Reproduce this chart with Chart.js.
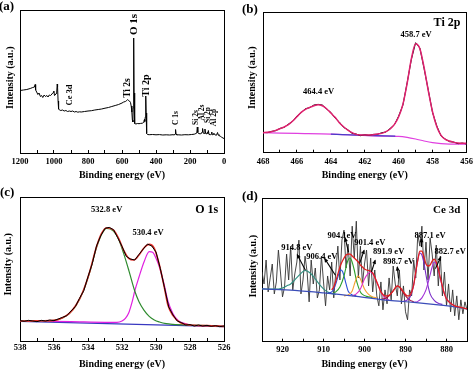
<!DOCTYPE html>
<html><head><meta charset="utf-8">
<script src="https://cdn.jsdelivr.net/npm/chart.js@4.4.0/dist/chart.umd.min.js"></script>
<style>
html,body{margin:0;padding:0;background:#fff;}
#wrap{position:relative;width:474px;height:370px;overflow:hidden;background:#fff;}
canvas{position:absolute;}
</style></head><body>
<div id="wrap">
<canvas id="ca" width="237" height="185" style="left:0;top:0;width:237px;height:185px"></canvas>
<canvas id="cb" width="237" height="185" style="left:237px;top:0;width:237px;height:185px"></canvas>
<canvas id="cc" width="237" height="185" style="left:0;top:185px;width:237px;height:185px"></canvas>
<canvas id="cd" width="237" height="185" style="left:237px;top:185px;width:237px;height:185px"></canvas>
</div>
<script>
// ---------------- Panel (a): survey spectrum ----------------
const surveyEnergy = [
1200,1180,1160,1140,1125,1115,1111,1108,1102,1095,
1088,1080,1073,1066,1058,1050,1042,1035,1028,1020,
1012,1005,1001,997,993,988,984,981,979,976,
973,968,960,950,940,930,920,910,900,890,
880,870,860,850,840,820,800,780,760,740,
720,700,680,660,640,620,600,590,580,572,
567,562,556,550,546,542,539,536,534,532,
530.5,529,527,524,518,510,500,490,480,474,
471,468,466,463,461,459.5,458,456,454,450,
440,420,400,380,360,340,320,300,292,288,
285,282,278,270,250,230,210,190,175,165,
160,157,154,150,140,133,129,126,122,116,
112,108,103,98,95,92,88,80,75,72,
69,64,60,52,44,38,35,30,22,14,
6,0];
const surveyCounts = [
62.5,63,63.5,64.5,65.5,66,68.5,63,61,58.5,
60,56.5,57.5,55.5,58,56.5,57.5,56,58,57.5,
59,60.5,62,57.5,58,59.5,61,69,66,52,
44,43,42.5,43,42,42.5,41.5,42,41.5,42,
41,41.5,40.8,41.2,41,41.5,42,42.3,43,43.5,
44,44.8,45.5,46.5,47.5,48.5,50,51,51.5,52.5,
53.5,52.5,52,50.5,47,41,33,31,45,100,
115,60,31,29.5,29,29.5,29.3,29.6,29.8,30.5,
32,33.5,31.5,36,48,57,40,24,19.5,18.5,
18.3,18.5,18.2,18.4,18,18.2,18,18.3,18,19,
23.5,19,18,18.2,18,18.3,18.2,18.5,18.8,19.5,
20,26,20.5,19.5,19.2,19.5,21,24.5,19.8,19.5,
24,19.5,19,20.5,19.5,22.5,18.5,18.3,18.8,21,
18.2,18.5,19.8,18,17.8,20.5,18.5,17.5,16.8,15.8,
15,14.5];
const surveyTicks = [0,100,200,300,400,500,600,700,800,900,1000,1100,1200];
const surveyTickLabels = ['0','','200','','400','','600','','800','','1000','','1200'];

// ---------------- Panel (b): Ti 2p ----------------
const ti2pEnergy = [468,467.75,467.5,467.25,467,466.75,466.5,466.25,466,465.75,465.5,465.25,465,464.75,464.5,464.25,464,463.75,463.5,463.25,463,462.75,462.5,462.25,462,461.75,461.5,461.25,461,460.75,460.5,460.25,460,459.75,459.5,459.25,459,458.75,458.5,458.25,458,457.75,457.5,457.25,457,456.75,456.5,456.25,456];
const ti2pCounts = [61,60,64,66,73,76,86,94,110,120,132,135,143,145,143,131,121,104,92,76,69,58,56,51,54,52,55,55,60,62,73,84,110,143,210,280,330,314,252,187,120,80,50,41,33,32,27,29,26];
const ti2pFit = [60,61,63,67,72,77,84,95,108,121,130,136,141,144,141,132,119,106,90,78,68,60,55,53,53,53,54,56,58,63,71,85,108,145,208,282,327,312,255,185,122,78,52,40,35,31,29,28,28];
const ti2pBgEnergy = [468,466,464,462.2,461,460,459.5,459,458.5,458,457.5,457,456];
const ti2pBg = [60,58,56,52,50,49,46,41,35,30,27,26,26];
const ti2pBg2Energy = [464,462,460.2];
const ti2pBg2 = [55.5,52,49.5];
const ti2pTicks = [456,457,458,459,460,461,462,463,464,465,466,467,468];
const ti2pTickLabels = ['456','','458','','460','','462','','464','','466','','468'];

// ---------------- Panel (c): O 1s ----------------
const o1sEnergy = [538,537.75,537.5,537.25,537,536.75,536.5,536.25,536,535.75,535.5,535.25,535,534.75,534.5,534.25,534,533.75,533.5,533.25,533,532.75,532.5,532.25,532,531.75,531.5,531.25,531,530.75,530.5,530.25,530,529.75,529.5,529.25,529,528.75,528.5,528.25,528,527.75,527.5,527.25,527,526.75,526.5,526.25,526];
const o1sCounts = [61,59,62,60,58,62,60,63,61,66,71,76,90,103,128,151,193,232,285,316,338,341,334,310,284,254,246,243,260,276,291,285,267,218,160,102,78,60,55,48,49,45,48,45,47,44,46,43,45];
const o1sFitEnergy = [538,537,536,535.5,535.1,534.7,534.3,533.9,533.5,533.2,532.9,532.5,532.2,531.9,531.6,531.3,531,530.7,530.4,530.1,529.8,529.5,529.3,529,528.6,528,527,526];
const o1sFit = [60,60.5,62,70,83,108,148,208,283,323,340,333,308,272,248,243,258,280,290,278,228,158,108,76,56,48,46,44];
const o1sPeak1Energy = [538,537,536,535.5,535.1,534.7,534.3,533.9,533.5,533.2,532.9,532.5,532.2,531.9,531.6,531.25,531,530.7,530.4,530.1,529.8,529.4,529,528,527,526];
const o1sPeak1 = [60,60.5,62,69,82,107,147,206,280,320,338,330,305,262,212,150,118,92,74,63,57,52,50,48,46,44];
const o1sPeak2Energy = [538,535,533,532.3,532,531.8,531.6,531.4,531.25,531,530.7,530.4,530.2,530,529.8,529.5,529.3,529,528.7,528.3,528,527,526];
const o1sPeak2 = [60,58,56,56,60,68,85,118,150,192,238,268,266,248,222,165,120,82,62,52,48,46,44];
const o1sBgEnergy = [538,526];
const o1sBg = [59,43];
const o1sTicks = [526,527,528,529,530,531,532,533,534,535,536,537,538];
const o1sTickLabels = ['526','','528','','530','','532','','534','','536','','538'];

// ---------------- Panel (d): Ce 3d ----------------
const ce3dEnergy = [925,924.5,924,923.5,923,922.5,922,921.5,921,920.5,920,919.5,919,918.5,918,917.5,917,916.5,916,915.5,915,914.5,914,913.5,913,912.5,912,911.5,911,910.5,910,909.5,909,908.5,908,907.5,907,906.5,906,905.5,905,904.5,904,903.5,903,902.5,902,901.5,901,900.5,900,899.5,899,898.5,898,897.5,897,896.5,896,895.5,895,894.5,894,893.5,893,892.5,892,891.5,891,890.5,890,889.5,889,888.5,888,887.5,887,886.5,886,885.5,885,884.5,884,883.5,883,882.5,882,881.5,881,880.5,880,879.5,879,878.5,878,877.5,877,876.5,876,875.5,875];
const ce3dCounts = [70,58,82,50,64,78,48,60,92,70,45,55,88,62,96,52,68,80,102,48,62,86,70,40,82,58,74,44,52,86,60,36,66,52,80,44,70,96,62,102,112,74,98,66,116,84,121,64,96,58,78,92,56,84,50,72,46,36,60,32,52,38,64,42,76,58,46,72,38,56,30,22,52,46,82,64,108,96,116,72,100,62,104,88,66,97,56,86,46,70,36,58,30,52,26,46,22,42,28,40,32];
const ce3dFitEnergy = [908,907.5,907,906.5,906,905.5,905,904.5,904,903.5,903,902.5,902,901.5,901,900.5,900,899.5,899,898.5,898,897.5,897,896.5,896,895.5,895,894.5,894,893.5,893,892.5,892,891.5,891,890.5,890,889.5,889,888.5,888,887.5,887,886.5,886,885.5,885,884.5,884,883.5,883,882.5,882,881.5,881,880.5,880,879,878,877,876,875];
const ce3dFit = [52,55,61,68,75,80,84,87,88,88,86,84,82,80,77,75,73,72,71.5,71,69,65,60,55,50,47.5,46,46,46.5,48.5,51,54,56,55,53,50,47.5,46,46.3,50,57,70,82,91,91,85,78,76,77,81,83,80,73,64,55.5,48,43,38.5,36,35,34,33];
const ce3dBgEnergy = [925,917,910,902,894,888,882,878,875];
const ce3dBg = [53,51.5,49,45.5,41.5,39.5,37,35,33];
const ce3dC1Energy = [925,922,920,919,918,917,916,915,914.5,914,913,912,911,910,909,908,907];
const ce3dC1 = [53,52.8,54,56,58,62,66.5,70.5,71.5,71,68,63,57.5,53,50,48.5,47.5];
const ce3dC2Energy = [909,908,907.5,907,906.5,906,905.7,905.3,905,904.5,904,903,902];
const ce3dC2 = [48.5,50,53,58,65,71,72,70,66,58,51,47,46];
const ce3dC3Energy = [908,907,906,905,904.5,904,903.6,903.2,902.5,902,901.5,901,900.5,899.5,898];
const ce3dC3 = [48,50,55,66,75,82,84,82,72,62,55,50,47.5,45.5,44.5];
const ce3dC4Energy = [905,904,903,902.3,901.8,901.5,901,900.5,900,899,898,897];
const ce3dC4 = [46,47,51,60,65,66,63,58,53,47.5,45,44];
const ce3dC5Energy = [903,902,901,900,899.2,898.5,897.8,897,896,895,894];
const ce3dC5 = [46,48,53,63,68,70,67,60,50,44,41.8];
const ce3dC6Energy = [896,895,894,893,892.5,892,891.5,891,890,889,888];
const ce3dC6 = [42.5,43.5,46,51,54,56,55,52,46,42,40];
const ce3dC7Energy = [891,890,889,888.5,888,887.5,887,886.5,886,885.5,885,884.5,884,883,882,881];
const ce3dC7 = [40.2,41,44,49,57,70,82,89,87,79,67,56,48,41.5,38.5,37.5];
const ce3dC8Energy = [888,887,886,885,884.5,884,883.5,883,882.5,882,881.5,881,880.5,880,879,878];
const ce3dC8 = [39.5,40.5,44,52,59,67,75,80,78,72,63,55,48,43,38.5,36];
const ce3dTicks = [875,880,885,890,895,900,905,910,915,920,925];
const ce3dTickLabels = ['','880','','890','','900','','910','','920',''];

// ---------------- helpers ----------------
const FONT = '"Liberation Serif", "Times New Roman", Times, serif';
Chart.defaults.font.family = FONT;
Chart.defaults.font.weight = 'bold';
Chart.defaults.color = '#000';
Chart.defaults.animation = false;

function pts(E, I) { return E.map((e, i) => ({x: e, y: I[i]})); }
function line(E, I, color, width, order, smooth) {
  return {data: pts(E, I), borderColor: color, borderWidth: width, pointRadius: 0,
          fill: false, order: order, tension: smooth ? 0.4 : 0,
          cubicInterpolationMode: smooth ? 'monotone' : 'default'};
}

const annotPlugin = {
  id: 'annot',
  afterDatasetsDraw(chart, args, opts) {
    const ctx = chart.ctx, xs = chart.scales.x, ys = chart.scales.y;
    ctx.save();
    ctx.fillStyle = '#000'; ctx.strokeStyle = '#000';
    (opts.arrows || []).forEach(a => {
      const x1 = xs.getPixelForValue(a[0]), y1 = ys.getPixelForValue(a[1]);
      const x2 = xs.getPixelForValue(a[2]), y2 = ys.getPixelForValue(a[3]);
      ctx.lineWidth = 1.1;
      ctx.beginPath(); ctx.moveTo(x1, y1); ctx.lineTo(x2, y2); ctx.stroke();
      const ang = Math.atan2(y1 - y2, x1 - x2), L = 4, W = 0.5;
      ctx.beginPath(); ctx.moveTo(x1 + Math.cos(ang), y1 + Math.sin(ang));
      ctx.lineTo(x1 - L * Math.cos(ang - W), y1 - L * Math.sin(ang - W));
      ctx.lineTo(x1 - L * Math.cos(ang + W), y1 - L * Math.sin(ang + W));
      ctx.closePath(); ctx.fill();
    });
    (opts.labels || []).forEach(l => {
      const x = xs.getPixelForValue(l.x), y = ys.getPixelForValue(l.y);
      ctx.font = 'bold ' + l.size + 'px ' + FONT;
      ctx.textAlign = 'center'; ctx.textBaseline = 'middle';
      ctx.save(); ctx.translate(x, y); if (l.rot) ctx.rotate(-Math.PI / 2);
      ctx.fillText(l.t, 0, 0); ctx.restore();
    });
    (opts.fixed || []).forEach(f => {
      ctx.font = 'bold ' + f.size + 'px ' + FONT;
      ctx.textAlign = f.align; ctx.textBaseline = 'middle';
      ctx.fillText(f.t, f.px, f.py);
    });
    ctx.restore();
  }
};

function makeChart(id, c) {
  const labelMap = {};
  c.ticks.forEach((v, i) => { labelMap[v] = c.tickLabels[i]; });
  const frameAxis = (pos) => ({
    type: 'linear', position: pos, display: true,
    min: pos === 'top' ? c.xmin : 0, max: pos === 'top' ? c.xmax : c.ymax,
    afterFit: s => { if (pos === 'top') s.height = 0; else s.width = 0; },
    border: {display: true, color: '#000', width: 1},
    grid: {drawOnChartArea: false, drawTicks: false},
    ticks: {display: false}
  });
  return new Chart(document.getElementById(id), {
    type: 'line',
    data: {datasets: c.datasets},
    plugins: [annotPlugin],
    options: {
      responsive: false, animation: false, devicePixelRatio: 1, events: [],
      layout: {padding: {left: 0, right: c.padR, top: c.padT, bottom: 0}},
      plugins: {legend: {display: false}, tooltip: {enabled: false},
                annot: {labels: c.labels, arrows: c.arrows, fixed: c.fixed}},
      scales: {
        x: {
          type: 'linear', reverse: true, min: c.xmin, max: c.xmax,
          afterFit: s => { s.height = c.xh; },
          afterBuildTicks: s => { s.ticks = c.ticks.map(v => ({value: v})); },
          border: {display: true, color: '#000', width: 1},
          grid: {drawOnChartArea: false, drawTicks: true, tickLength: -3, color: '#000', lineWidth: 1},
          ticks: {autoSkip: false, maxRotation: 0, minRotation: 0, padding: c.tickPad, color: '#000',
                  font: {family: FONT, size: 8.5, weight: 'bold'},
                  callback: v => (labelMap[v] !== undefined ? labelMap[v] : '')},
          title: {display: true, text: 'Binding energy (eV)', color: '#000',
                  font: {family: FONT, size: 10, weight: 'bold'},
                  padding: {top: 0, bottom: c.titlePad}}
        },
        y: {
          type: 'linear', min: 0, max: c.ymax,
          afterFit: s => { s.width = c.yw; },
          border: {display: true, color: '#000', width: 1},
          grid: {drawOnChartArea: false, drawTicks: false},
          ticks: {display: false},
          title: {display: true, text: c.ytitle, color: '#000',
                  font: {family: FONT, size: 10, weight: 'bold'},
                  padding: {top: c.ytitlePad, bottom: 0}}
        },
        x2: frameAxis('top'),
        y2: frameAxis('right')
      }
    }
  });
}

// ---------------- (a) ----------------
makeChart('ca', {
  xmin: 0, xmax: 1200, ymax: 143, padR: 13, padT: 10, xh: 32, yw: 20,
  tickPad: 6.6, titlePad: 3.5, ytitlePad: 4, ytitle: '   Intensity (a.u.)',
  ticks: surveyTicks, tickLabels: surveyTickLabels,
  datasets: [line(surveyEnergy, surveyCounts, '#000', 1, 1, false)],
  labels: [
    {t: 'Ce 3d', x: 906, y: 58, size: 8.5, rot: true},
    {t: 'Ti 2s', x: 566, y: 65, size: 9.5, rot: true},
    {t: 'O 1s', x: 528, y: 128.5, size: 11, rot: true},
    {t: 'Ti 2p', x: 455, y: 67.5, size: 10, rot: true},
    {t: 'C 1s', x: 282, y: 35, size: 7.5, rot: true},
    {t: 'Si 2s', x: 162, y: 35.5, size: 7.5, rot: true},
    {t: 'Al 2s', x: 126.5, y: 40.5, size: 7.5, rot: true},
    {t: 'Si 2p', x: 91, y: 38, size: 7.5, rot: true},
    {t: 'Al 2p', x: 56, y: 35.5, size: 7.5, rot: true}
  ],
  fixed: [{t: '(a)', px: -1, py: 7, size: 13, align: 'left'}]
});

// ---------------- (b) ----------------
makeChart('cb', {
  xmin: 456, xmax: 468, ymax: 420, padR: 7.5, padT: 12.7, xh: 32.3, yw: 26,
  tickPad: 6.9, titlePad: 3.5, ytitlePad: 9, ytitle: '    Intensity (a.u.)',
  ticks: ti2pTicks, tickLabels: ti2pTickLabels,
  datasets: [
    line(ti2pBgEnergy, ti2pBg, '#e040e0', 1.2, 5, true),
    line(ti2pBg2Energy, ti2pBg2, '#4a3cc8', 1.2, 4, true),
    line(ti2pEnergy, ti2pCounts, '#000', 1, 3, false),
    line(ti2pEnergy, ti2pFit, '#e0206e', 1.5, 2, true)
  ],
  labels: [
    {t: '464.4 eV', x: 464.72, y: 182, size: 8.5},
    {t: '458.7 eV', x: 458.97, y: 354, size: 8.5}
  ],
  fixed: [
    {t: '(b)', px: 5, py: 9.3, size: 13, align: 'left'},
    {t: 'Ti 2p', px: 210, py: 23.3, size: 12, align: 'center'}
  ]
});

// ---------------- (c) ----------------
makeChart('cc', {
  xmin: 526, xmax: 538, ymax: 430, padR: 13, padT: 12.7, xh: 29, yw: 20,
  tickPad: 4.6, titlePad: -0.5, ytitlePad: 2.3, ytitle: '    Intensity (a.u.)',
  ticks: o1sTicks, tickLabels: o1sTickLabels,
  datasets: [
    line(o1sBgEnergy, o1sBg, '#3838c0', 1.2, 6, false),
    line(o1sPeak2Energy, o1sPeak2, '#e020e0', 1.2, 5, true),
    line(o1sPeak1Energy, o1sPeak1, '#2e8b2e', 1.2, 4, true),
    line(o1sFitEnergy, o1sFit, '#e8302a', 1.6, 3, true),
    line(o1sEnergy, o1sCounts, '#000', 1, 2, false)
  ],
  labels: [
    {t: '532.8 eV', x: 532.9, y: 395, size: 8.5},
    {t: '530.4 eV', x: 530.47, y: 325, size: 8.5}
  ],
  fixed: [
    {t: '(c)', px: 0, py: 8, size: 13, align: 'left'},
    {t: 'O 1s', px: 206.7, py: 25, size: 12, align: 'center'}
  ]
});

// ---------------- (d) ----------------
makeChart('cd', {
  xmin: 875, xmax: 925, ymax: 144, padR: 7, padT: 13.3, xh: 28.3, yw: 25,
  tickPad: 6.4, titlePad: -0.5, ytitlePad: 10.7, ytitle: '   Intensity (a.u.)',
  ticks: ce3dTicks, tickLabels: ce3dTickLabels,
  datasets: [
    line(ce3dEnergy, ce3dCounts, '#333333', 0.9, 12, false),
    line(ce3dC1Energy, ce3dC1, '#2f8f80', 1.1, 11, true),
    line(ce3dC2Energy, ce3dC2, '#2c4fd8', 1.1, 10, true),
    line(ce3dC3Energy, ce3dC3, '#2ca02c', 1.1, 9, true),
    line(ce3dC4Energy, ce3dC4, '#f5a030', 1.1, 8, true),
    line(ce3dC5Energy, ce3dC5, '#e030c8', 1.1, 7, true),
    line(ce3dC6Energy, ce3dC6, '#a0103c', 1.1, 6, true),
    line(ce3dC7Energy, ce3dC7, '#7b2fc9', 1.1, 5, true),
    line(ce3dC8Energy, ce3dC8, '#a330d8', 1.1, 4, true),
    line(ce3dBgEnergy, ce3dBg, '#3b4db8', 1.2, 3, true),
    line(ce3dFitEnergy, ce3dFit, '#e02020', 1.3, 2, true)
  ],
  labels: [
    {t: '914.8 eV', x: 916.5, y: 94, size: 8.5},
    {t: '906.4 eV', x: 910.4, y: 85.7, size: 8.5},
    {t: '904.1eV', x: 905.5, y: 106.7, size: 8.5},
    {t: '901.4 eV', x: 898.7, y: 99.4, size: 8.5},
    {t: '891.9 eV', x: 894.1, y: 90, size: 8.5},
    {t: '898.7 eV', x: 891.7, y: 80, size: 8.5},
    {t: '887.1 eV', x: 884.0, y: 106.7, size: 8.5},
    {t: '882.7 eV', x: 879.1, y: 90.7, size: 8.5}
  ],
  arrows: [
    [916.4, 87.4, 914.4, 71.7],
    [909.7, 83.4, 907.1, 66.7],
    [904.7, 104, 903.9, 90],
    [900.1, 91.7, 901.2, 78.4],
    [897.4, 81.7, 898.3, 70],
    [892, 75, 891.7, 63.4],
    [886.1, 103.4, 886.1, 95],
    [881.4, 85, 882.7, 73.4]
  ],
  fixed: [
    {t: '(d)', px: 5, py: 12, size: 13, align: 'left'},
    {t: 'Ce 3d', px: 209.7, py: 24.7, size: 11, align: 'center'}
  ]
});
</script>
</body></html>
